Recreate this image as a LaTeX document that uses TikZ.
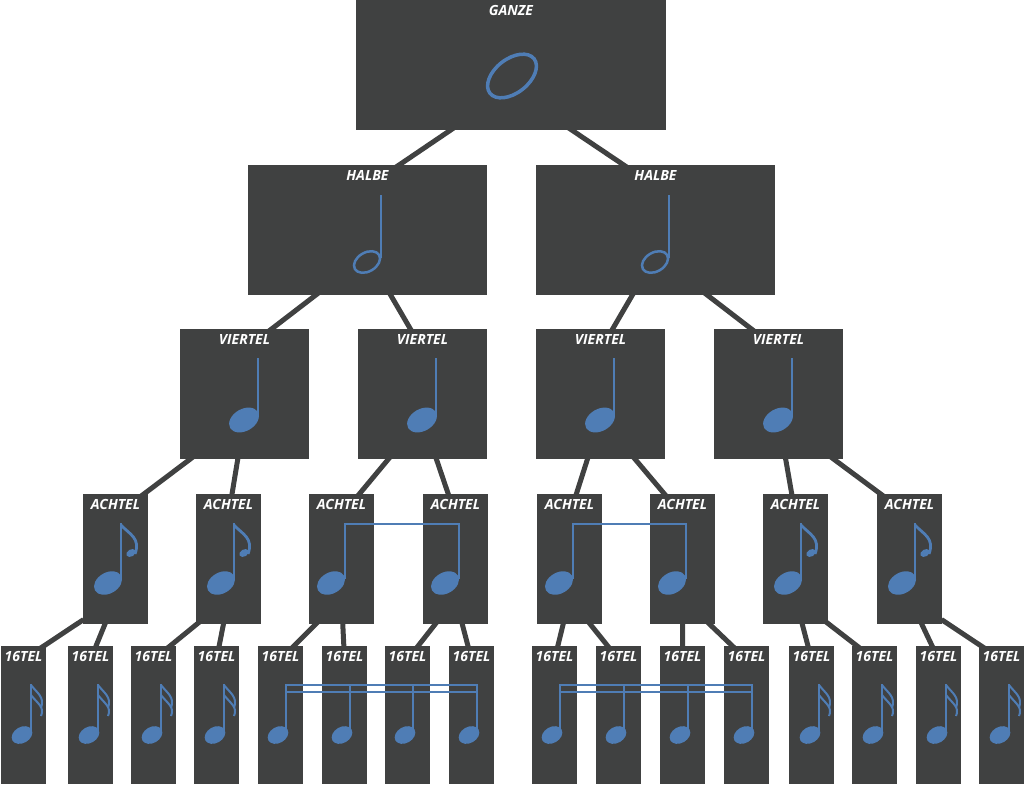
\documentclass[tikz,border=0pt]{standalone}
\usepackage{fontspec}
\setmainfont{Open Sans}
\usetikzlibrary{calc}
\pgfdeclarelayer{bg}
\pgfsetlayers{bg,main}
\definecolor{bx}{HTML}{404141}
\definecolor{nt}{HTML}{4F7DB5}
\tikzset{
  box/.style={fill=bx,draw=none,inner sep=0,outer sep=0,rectangle},
  lbl/.style={text=white,font=\fontsize{14}{14}\selectfont\bfseries\itshape,anchor=north,inner sep=0},
  conn/.style={draw=bx,line width=5pt,shorten <=-8pt,shorten >=-8pt},
  stem/.style={draw=nt,line width=2.4pt},
}
\newcommand{\bx}[6]{%
  \node[box,minimum width={#4-#2},minimum height={#5-#3}] (#1) at ({(#2+#4)/2},{(#3+#5)/2}) {};
  \node[lbl] (#1l) at ([yshift=-5pt]#1.north) {#6};}
\newcommand{\cn}[2]{%
  \draw[conn] ($(#1.south)!0.42!(#1.south -| #2.north)$) -- ($(#2.north)!0.22!(#2.north -| #1.south)$);}
\begin{document}
\begin{tikzpicture}[x=1pt,y=-1pt]
\useasboundingbox (0,0) rectangle (1024,784);
% boxes
\bx{g}{356}{0}{666}{130}{GANZE}
\bx{h1}{248}{165}{487}{295}{HALBE}
\bx{h2}{536}{165}{775}{295}{HALBE}
\foreach \n/\l in {v1/180,v2/358,v3/536,v4/714}{\bx{\n}{\l}{329}{\l+129}{459}{VIERTEL}}
\foreach \n/\l in {a1/83,a2/196,a3/309,a4/423,a5/537,a6/650,a7/763,a8/877}{\bx{\n}{\l}{494}{\l+65}{624}{ACHTEL}}
\foreach \n/\l in {s1/1,s2/68,s3/131,s4/194,s5/258,s6/322,s7/385,s8/449,s9/532,s10/596,s11/660,s12/724,s13/789,s14/852,s15/916,s16/979}{\bx{\n}{\l}{646}{\l+45}{784}{16TEL}}
% connectors
\begin{pgfonlayer}{bg}
\cn{g}{h1}\cn{g}{h2}
\cn{h1}{v1}\cn{h1}{v2}\cn{h2}{v3}\cn{h2}{v4}
\cn{v1}{a1}\cn{v1}{a2}\cn{v2}{a3}\cn{v2}{a4}\cn{v3}{a5}\cn{v3}{a6}\cn{v4}{a7}\cn{v4}{a8}
\cn{a1}{s1}\cn{a1}{s2}\cn{a2}{s3}\cn{a2}{s4}\cn{a3}{s5}\cn{a3}{s6}\cn{a4}{s7}\cn{a4}{s8}
\cn{a5}{s9}\cn{a5}{s10}\cn{a6}{s11}\cn{a6}{s12}\cn{a7}{s13}\cn{a7}{s14}\cn{a8}{s15}\cn{a8}{s16}
\end{pgfonlayer}
% whole note
\draw[nt,line width=3.5pt,rotate around={38:(512,76)}] (512,76) ellipse (28 and 17);
% half notes
\foreach \c in {367,655}{
  \draw[nt,line width=2.5pt,rotate around={30:(\c,262)}] (\c,262) ellipse (14 and 9.5);
  \draw[stem] (\c+14,258) -- (\c+14,195);}
% quarter notes
\foreach \l in {180,358,536,714}{
  \fill[nt,rotate around={30:(\l+64,420)}] (\l+64,420) ellipse (16 and 11);
  \draw[stem] (\l+78,416) -- (\l+78,358);}
% eighth single
\foreach \l in {83,196,763,877}{
  \fill[nt,rotate around={30:(\l+25,583)}] (\l+25,583) ellipse (15 and 10.5);
  \draw[stem] (\l+38,579) -- (\l+38,523);
  \draw[nt,line width=2.8pt] (\l+38,525) .. controls (\l+46,534) and (\l+58,538) .. (\l+52,554);
  \fill[nt,rotate around={30:(\l+48,553)}] (\l+48,553) ellipse (5 and 3.5);}
% eighth beamed
\foreach \a/\b in {309/423,537/650}{
  \foreach \l in {\a,\b}{
    \fill[nt,rotate around={30:(\l+22,583)}] (\l+22,583) ellipse (15 and 10.5);
    \draw[stem] (\l+36,579) -- (\l+36,523);}
  \draw[stem] (\a+36,524) -- (\b+36,524);}
% 16th single
\foreach \l in {1,68,131,194,789,852,916,979}{
  \fill[nt,rotate around={30:(\l+21,735)}] (\l+21,735) ellipse (11 and 8);
  \draw[stem] (\l+30,732) -- (\l+30,684);
  \draw[nt,line width=2pt] (\l+30,685) .. controls (\l+36,693) and (\l+44,697) .. (\l+40,708);
  \draw[nt,line width=2pt] (\l+30,695) .. controls (\l+36,703) and (\l+44,707) .. (\l+40,716);}
% 16th beamed
\foreach \a/\b/\c/\d in {258/322/385/449,532/596/660/724}{
  \foreach \l in {\a,\b,\c,\d}{
    \fill[nt,rotate around={30:(\l+20,735)}] (\l+20,735) ellipse (11 and 8);
    \draw[stem] (\l+28,732) -- (\l+28,684);}
  \draw[nt,line width=2.2pt] (\a+28,685) -- (\d+28,685);
  \draw[nt,line width=2.2pt] (\a+28,692) -- (\d+28,692);}
\end{tikzpicture}
\end{document}
